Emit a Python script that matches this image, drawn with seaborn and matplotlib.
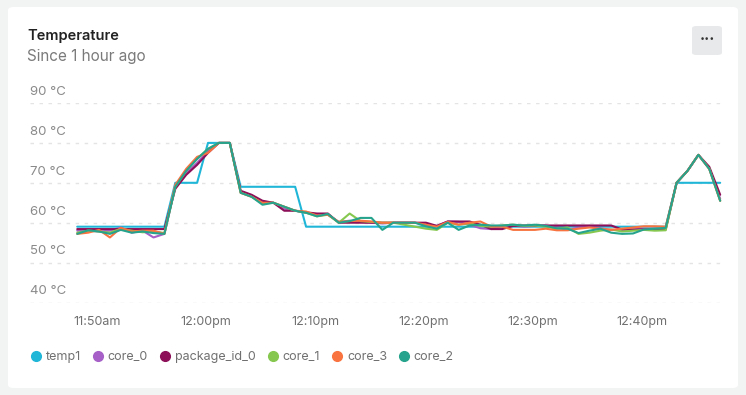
import seaborn as sns
import matplotlib.pyplot as plt
import matplotlib.transforms as mtransforms
from matplotlib.patches import FancyBboxPatch
from matplotlib.lines import Line2D
import pandas as pd

# samples every minute, starting 11:48:10
start_time = "2024-01-01 11:48:10"
n_points = 60

temp1 = [59] * 9 + [70] * 3 + [80] * 3 + [69] * 6 + [59] * 34 + [70] * 5

core_0 = [58, 58, 57.8, 58, 58.8, 57.5, 58, 56.3, 57.2,
          69, 72.5, 75, 78, 80, 80,
          67.8, 66.8, 65.3, 65, 63.5, 63, 62.5,
          62, 62, 60.2, 60.5, 60.2, 60, 59.8, 60, 60, 60, 59.5, 59.2, 60.3,
          60.2, 59.5, 58.6, 58.4, 59.2, 59.3, 59, 59.2, 59.3, 58.8, 58.2, 58.8, 59.2, 58.6, 58.2,
          58.2, 58.3, 58.5, 58.5, 58.5, 70, 73, 77, 73.5, 66]

package_id_0 = [58.4] * 9 + [
          68.5, 72, 74.5, 77.5, 80, 80,
          68, 67, 65.5, 65, 63, 63, 62.6,
          62.3, 62.3, 60, 60, 60, 60, 60, 60, 60, 60, 60, 59.2, 60.3,
          60.3, 60.3, 59.5, 58.4, 58.4, 59.2, 59.3, 59.3, 59.3, 59.3, 59.3, 59.3, 59.3, 59.3, 59.3,
          58.3, 58.3, 58.3, 58.3, 58.3, 70, 73, 77, 74, 67]

core_1 = [57.5, 58, 57.8, 57.5, 58.5, 58, 57.6, 57.8, 57.4,
          69, 73, 76, 78.5, 80, 80,
          67.5, 66.5, 64.8, 65, 64, 63, 62.5,
          61.6, 62, 60, 62.3, 60.4, 60.2, 60, 60, 59.5, 59, 58.5, 58.2, 60,
          59.5, 59.8, 59.2, 59, 59.3, 59.5, 59.2, 59.3, 59, 58.5, 58.8, 57.2, 57.5, 58, 58.3,
          57.8, 58, 58.2, 58, 58.1, 70, 73, 77, 73.5, 65.5]

core_3 = [57.2, 57.5, 58.2, 56.3, 58.7, 57.8, 58, 58, 57.2,
          69.5, 73.5, 76.5, 77.5, 80, 80,
          67.5, 66.5, 65, 65, 64, 63, 62.8,
          61.8, 62, 60.2, 60.4, 60.5, 60.3, 60, 60, 60, 60, 59.5, 59, 60.2,
          59.5, 60, 60.3, 59, 59, 58.2, 58.2, 58.2, 58.5, 58.1, 58.1, 58.5, 58.8, 58.5, 58.2,
          58.5, 58.8, 59.1, 59.1, 59, 70, 73, 77, 73.5, 65.5]

core_2 = [57.2, 58.1, 57.8, 57.2, 58.2, 57.5, 57.8, 57.4, 57.2,
          69, 73, 76, 78.5, 80, 80,
          67.5, 66.5, 64.5, 65, 64, 63, 62.5,
          61.6, 62.2, 60, 60.4, 61.2, 61.2, 58.2, 60, 60, 60, 59.1, 58.5, 60,
          58.2, 59.3, 59.5, 59.3, 59.3, 59.5, 59.3, 59.5, 59.2, 58.6, 58.5, 57.4, 58, 58.5, 57.5,
          57.2, 57.3, 58.3, 58.5, 58.7, 70, 73, 77, 73.5, 65.5]

series_names = ["temp1", "core_0", "package_id_0", "core_1", "core_3", "core_2"]
series_values = [temp1, core_0, package_id_0, core_1, core_3, core_2]
colors = ["#1fb6d8", "#a660c8", "#8c0f58", "#86c84f", "#f8733f", "#26a38c"]

y_ticks = [40, 50, 60, 70, 80, 90]
y_labels = [f"{v} °C" for v in y_ticks]
x_ticks = ["11:50", "12:00", "12:10", "12:20", "12:30", "12:40"]
x_labels = ["11:50am", "12:00pm", "12:10pm", "12:20pm", "12:30pm", "12:40pm"]

times = pd.date_range(start_time, periods=n_points, freq="1min")
df = pd.concat([pd.DataFrame({"time": times, "value": vals, "sensor": name})
                for name, vals in zip(series_names, series_values)])

sns.set_style("white")
plt.rcParams["font.family"] = ["Inter", "DejaVu Sans"]

fig = plt.figure(figsize=(7.46, 3.95), dpi=100)
fig.patch.set_facecolor("#f2f3f3")

# card + menu button (kept behind the axes)
card = FancyBboxPatch((8 / 746, 7 / 395), 730 / 746, 381 / 395,
                      boxstyle="round,pad=0,rounding_size=0.008",
                      transform=fig.transFigure, facecolor="white", edgecolor="none",
                      zorder=-10)
fig.patches.append(card)
btn = FancyBboxPatch((692 / 746, 1 - 55 / 395), 30 / 746, 29 / 395,
                     boxstyle="round,pad=0,rounding_size=0.006",
                     transform=fig.transFigure, facecolor="#e8e9ea", edgecolor="none",
                     zorder=-5)
fig.patches.append(btn)
fig.text(707 / 746, 1 - 40 / 395, "···", ha="center", va="center",
         fontsize=11, fontweight="bold", color="#333333")

fig.text(27 / 746, 1 - 36 / 395, "Temperature", ha="left", va="center",
         fontsize=10.5, fontweight="semibold", color="#222222")
fig.text(27 / 746, 1 - 56 / 395, "Since 1 hour ago", ha="left", va="center",
         fontsize=11, color="#7a7a7a")

ax = fig.add_axes([30 / 746, 1 - 302.5 / 395, 692 / 746, 199.5 / 395])
ax.set_facecolor("none")
ax.set_zorder(1)

sns.lineplot(data=df, x="time", y="value", hue="sensor", hue_order=series_names,
             palette=colors, linewidth=1.5, legend=False, ax=ax)

day = "2024-01-01 "
ax.set_xlim(pd.Timestamp(day + "11:43:50"), pd.Timestamp(day + "12:47:20"))
ax.set_ylim(40, 90)

for v in y_ticks:
    ax.axhline(v, color="#e4e4e4", linewidth=1, linestyle=(0, (2.5, 4)), zorder=0)
ax.set_yticks([])
trans = mtransforms.blended_transform_factory(ax.transAxes, ax.transData)
for v, lab in zip(y_ticks, y_labels):
    ax.annotate(lab, (0, v), xycoords=trans, xytext=(0, 8), textcoords="offset points",
                ha="left", va="center", fontsize=9.5, color="#8a8a8a")

ax.set_xticks([pd.Timestamp(day + t) for t in x_ticks])
ax.set_xticklabels(x_labels, fontsize=9, color="#707070")
ax.tick_params(axis="x", length=3, color="#e4e4e4", pad=7)
ax.set_xlabel("")
ax.set_ylabel("")
sns.despine(ax=ax, left=True, bottom=True)

handles = [Line2D([], [], marker="o", linestyle="none", markersize=7,
                  markerfacecolor=c, markeredgecolor=c) for c in colors]
leg = fig.legend(handles, series_names, loc="center left",
                 bbox_to_anchor=(30 / 746, 1 - 357 / 395), ncol=6, frameon=False,
                 fontsize=9, handletextpad=0.35, columnspacing=0.9, handlelength=0.9,
                 borderaxespad=0, borderpad=0)
for t in leg.get_texts():
    t.set_color("#707070")

fig.savefig("out.png", dpi=100, facecolor=fig.get_facecolor())
